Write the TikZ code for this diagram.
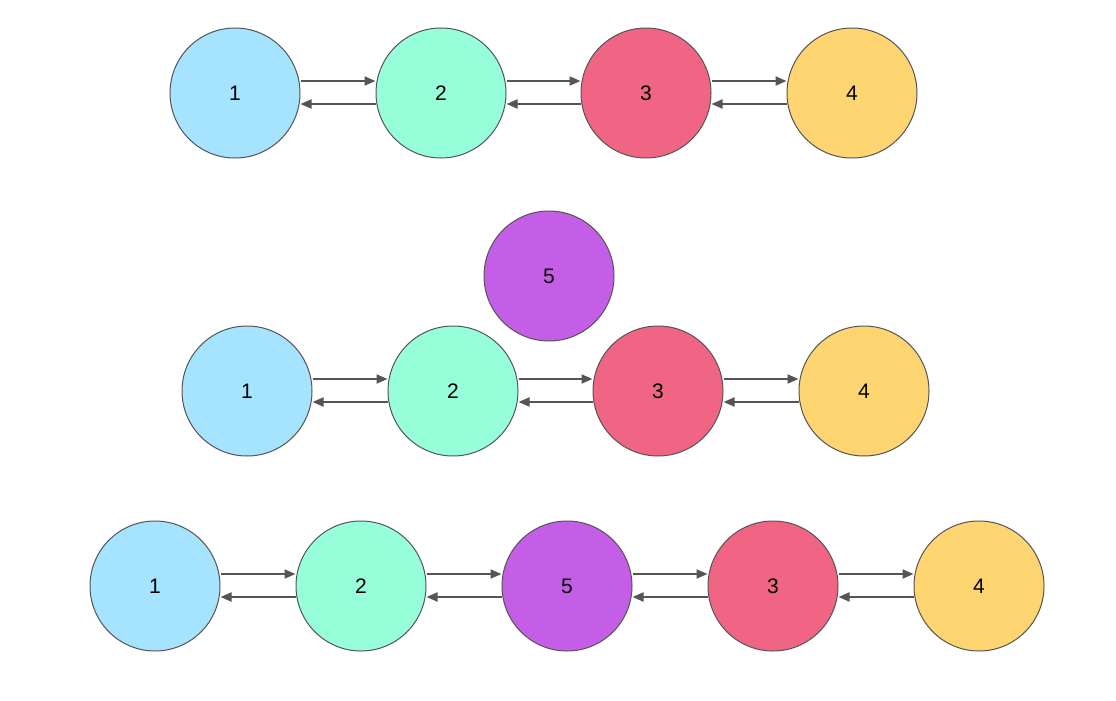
\documentclass[tikz,border=0pt]{standalone}
\usepackage{fontspec}
\setmainfont{Liberation Sans}
\usetikzlibrary{arrows.meta,calc}
\definecolor{cb}{HTML}{A6E3FF}
\definecolor{cg}{HTML}{96FFD9}
\definecolor{cr}{HTML}{F06584}
\definecolor{cy}{HTML}{FFD572}
\definecolor{cp}{HTML}{C45EE6}
\definecolor{ln}{HTML}{555555}
\begin{document}
\begin{tikzpicture}[x=1pt,y=-1pt,
  nd/.style={circle,draw=ln,line width=1pt,minimum size=130pt,inner sep=0pt,font=\fontsize{21}{24}\selectfont},
  ar/.style={draw=ln,line width=2pt,-{Triangle[length=11pt,width=9pt]}}]
\useasboundingbox[fill=white] (0,0) rectangle (1116,701);
\newcommand\pair[2]{%
  \draw[ar] ($(#1.east)+(0,-12)$) -- ($(#2.west)+(0,-12)$);
  \draw[ar] ($(#2.west)+(0,11)$) -- ($(#1.east)+(0,11)$);}
\node[nd,fill=cb] (a1) at (235,93) {1};
\node[nd,fill=cg] (a2) at (441,93) {2};
\node[nd,fill=cr] (a3) at (646,93) {3};
\node[nd,fill=cy] (a4) at (852,93) {4};
\pair{a1}{a2}\pair{a2}{a3}\pair{a3}{a4}
\node[nd,fill=cp] (b5) at (549,276) {5};
\node[nd,fill=cb] (b1) at (247,391) {1};
\node[nd,fill=cg] (b2) at (453,391) {2};
\node[nd,fill=cr] (b3) at (658,391) {3};
\node[nd,fill=cy] (b4) at (864,391) {4};
\pair{b1}{b2}\pair{b2}{b3}\pair{b3}{b4}
\node[nd,fill=cb] (c1) at (155,586) {1};
\node[nd,fill=cg] (c2) at (361,586) {2};
\node[nd,fill=cp] (c5) at (567,586) {5};
\node[nd,fill=cr] (c3) at (773,586) {3};
\node[nd,fill=cy] (c4) at (979,586) {4};
\pair{c1}{c2}\pair{c2}{c5}\pair{c5}{c3}\pair{c3}{c4}
\end{tikzpicture}
\end{document}
